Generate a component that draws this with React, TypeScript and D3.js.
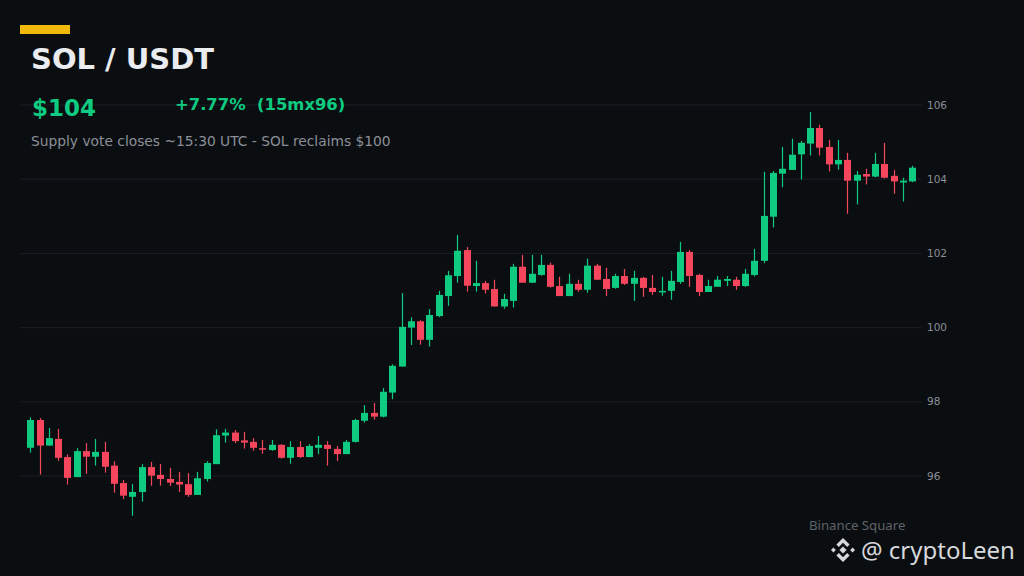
import React from 'react';
import * as d3 from 'd3';

// 15m candles, 96 bars
const opens = [
  96.76, 97.51, 96.82, 97.0, 96.51, 95.97, 96.67, 96.52, 96.65, 96.28, 95.81, 95.44,
  95.57, 96.24, 96.03, 95.92, 95.84, 95.78, 95.49, 95.92, 96.32, 97.09, 97.17, 96.96,
  96.92, 96.75, 96.7, 96.84, 96.49, 96.78, 96.51, 96.76, 96.84, 96.73, 96.59, 96.92,
  97.49, 97.7, 97.6, 98.25, 98.95, 100.0, 100.17, 99.67, 100.31, 100.85, 101.39, 102.09,
  101.12, 101.2, 101.04, 100.57, 100.72, 101.64, 101.21, 101.42, 101.69, 101.12, 100.85, 101.18,
  101.02, 101.67, 101.31, 101.07, 101.39, 101.18, 101.34, 101.07, 100.96, 100.99, 101.23, 102.04,
  101.42, 100.96, 101.1, 101.26, 101.29, 101.12, 101.42, 101.8, 102.99, 104.15, 104.25, 104.67,
  104.96, 105.38, 104.87, 104.4, 104.52, 103.96, 104.14, 104.07, 104.41, 104.09, 103.91, 103.94,
];
const highs = [
  97.58, 97.56, 97.29, 97.27, 96.58, 96.75, 96.89, 97.0, 96.92, 96.4, 95.89, 95.78,
  96.32, 96.38, 96.32, 96.22, 96.11, 96.08, 96.11, 96.4, 97.26, 97.27, 97.24, 97.19,
  97.02, 96.97, 96.97, 96.86, 96.94, 96.94, 96.86, 97.08, 96.94, 96.81, 96.97, 97.54,
  97.91, 97.97, 98.37, 99.01, 100.93, 100.28, 100.2, 100.5, 100.99, 101.53, 102.5, 102.17,
  101.8, 101.26, 101.29, 100.91, 101.72, 101.96, 101.96, 101.96, 101.75, 101.37, 101.45, 101.29,
  101.86, 101.72, 101.61, 101.45, 101.58, 101.53, 101.37, 101.42, 101.37, 101.53, 102.31, 102.09,
  101.45, 101.29, 101.39, 101.39, 101.37, 101.58, 102.12, 104.2, 104.22, 104.87, 105.09, 105.03,
  105.81, 105.47, 105.06, 105.06, 104.71, 104.22, 104.28, 104.71, 104.98, 104.25, 104.04, 104.36,
];
const lows = [
  96.63, 96.04, 96.82, 96.41, 95.77, 95.97, 96.06, 96.28, 96.09, 95.55, 95.38, 94.93,
  95.31, 95.74, 95.74, 95.73, 95.57, 95.44, 95.49, 95.85, 96.32, 96.9, 96.89, 96.74,
  96.68, 96.6, 96.68, 96.47, 96.33, 96.49, 96.51, 96.59, 96.28, 96.4, 96.59, 96.9,
  97.44, 97.52, 97.58, 98.07, 98.95, 99.53, 99.54, 99.49, 100.28, 100.59, 101.21, 100.97,
  100.97, 100.92, 100.57, 100.51, 100.54, 101.21, 101.21, 101.4, 101.08, 100.85, 100.85, 100.97,
  100.94, 101.29, 100.85, 101.05, 101.15, 100.72, 100.83, 100.88, 100.86, 100.75, 101.18, 101.1,
  100.85, 100.96, 101.1, 101.12, 101.02, 101.1, 101.38, 101.74, 102.7, 103.78, 104.25, 103.99,
  104.64, 104.64, 104.21, 104.26, 103.07, 103.32, 103.86, 104.05, 104.02, 103.61, 103.4, 103.92,
];
const closes = [
  97.51, 96.82, 97.02, 96.49, 95.95, 96.67, 96.52, 96.65, 96.25, 95.79, 95.47, 95.57,
  96.24, 96.01, 95.92, 95.82, 95.77, 95.49, 95.94, 96.35, 97.1, 97.17, 96.94, 96.9,
  96.76, 96.71, 96.84, 96.49, 96.78, 96.51, 96.81, 96.84, 96.73, 96.59, 96.92, 97.51,
  97.7, 97.6, 98.27, 98.97, 100.02, 100.17, 99.67, 100.34, 100.88, 101.41, 102.07, 101.13,
  101.2, 101.02, 100.57, 100.77, 101.64, 101.21, 101.45, 101.69, 101.1, 100.85, 101.18, 101.02,
  101.67, 101.29, 101.04, 101.39, 101.18, 101.34, 101.07, 100.96, 100.99, 101.26, 102.04, 101.39,
  100.96, 101.12, 101.29, 101.31, 101.12, 101.45, 101.8, 103.01, 104.17, 104.28, 104.66, 104.98,
  105.38, 104.85, 104.4, 104.52, 103.96, 104.12, 104.07, 104.41, 104.04, 103.94, 103.96, 104.31,
];
const yTicks = [96, 98, 100, 102, 104, 106];

const UP = '#0ecb81';
const DOWN = '#f6465d';
const BG = '#0b0e11';

const W = 1024;
const H = 576;

const App: React.FC = () => {
  const idx = d3.range(closes.length);
  const x = d3.scalePoint<number>().domain(idx).range([30.3, 912.2]);
  const y = d3.scaleLinear().domain([96, 106]).range([476, 105]);
  const bodyW = 7;

  return (
    <svg
      width={W}
      height={H}
      style={{ position: 'absolute', left: 0, top: 0, background: BG }}
      fontFamily="DejaVu Sans, sans-serif"
    >
      <rect width={W} height={H} fill={BG} />

      {/* grid + right axis */}
      {yTicks.map((t) => (
        <g key={t}>
          <line x1={20} x2={922} y1={y(t)} y2={y(t)} stroke="#1a1e24" strokeWidth={1} />
          <text x={927} y={y(t) + 3.5} fontSize={10.5} fill="#8a8f98">
            {t}
          </text>
        </g>
      ))}

      {/* candles */}
      {idx.map((i) => {
        const o = opens[i];
        const c = closes[i];
        const col = c >= o ? UP : DOWN;
        const cx = Math.round(x(i) as number) + 0.5;
        const top = y(Math.max(o, c));
        const bot = y(Math.min(o, c));
        return (
          <g key={i}>
            <line x1={cx} x2={cx} y1={y(highs[i])} y2={y(lows[i])} stroke={col} strokeWidth={1.2} />
            <rect
              x={cx - bodyW / 2}
              y={top}
              width={bodyW}
              height={Math.max(bot - top, 1.5)}
              fill={col}
            />
          </g>
        );
      })}

      {/* header */}
      <rect x={20} y={25} width={50} height={9} fill="#f0b90b" />
      <text x={31} y={69} fontSize={29} fontWeight="bold" fill="#eaecef">
        SOL / USDT
      </text>
      <text x={32} y={116} fontSize={23} fontWeight="bold" fill={UP}>
        $104
      </text>
      <text x={175} y={110} fontSize={16.4} fontWeight="bold" fill={UP} style={{ whiteSpace: 'pre' }}>
        +7.77%  (15mx96)
      </text>
      <text x={31} y={146} fontSize={13.8} fill="#8a8f98">
        Supply vote closes ~15:30 UTC - SOL reclaims $100
      </text>

      {/* watermark */}
      <text x={809} y={530} fontSize={13.2} fill="#5e6369" fontFamily="Noto Sans, sans-serif">
        Binance Square
      </text>
      <g transform="translate(828,535) scale(0.3)" fill="#d6d8db">
        <polygon points="50,38 62,50 50,62 38,50" />
        <polygon points="18,42 26,50 18,58 10,50" />
        <polygon points="82,42 90,50 82,58 74,50" />
        <polygon points="50,10 72,32 64,40 50,26 36,40 28,32" />
        <polygon points="50,90 72,68 64,60 50,74 36,60 28,68" />
      </g>
      <text x={861} y={559} fontSize={24} fill="#d6d8db" fontFamily="Noto Sans, sans-serif">
        @ cryptoLeen
      </text>
    </svg>
  );
};

export default App;
